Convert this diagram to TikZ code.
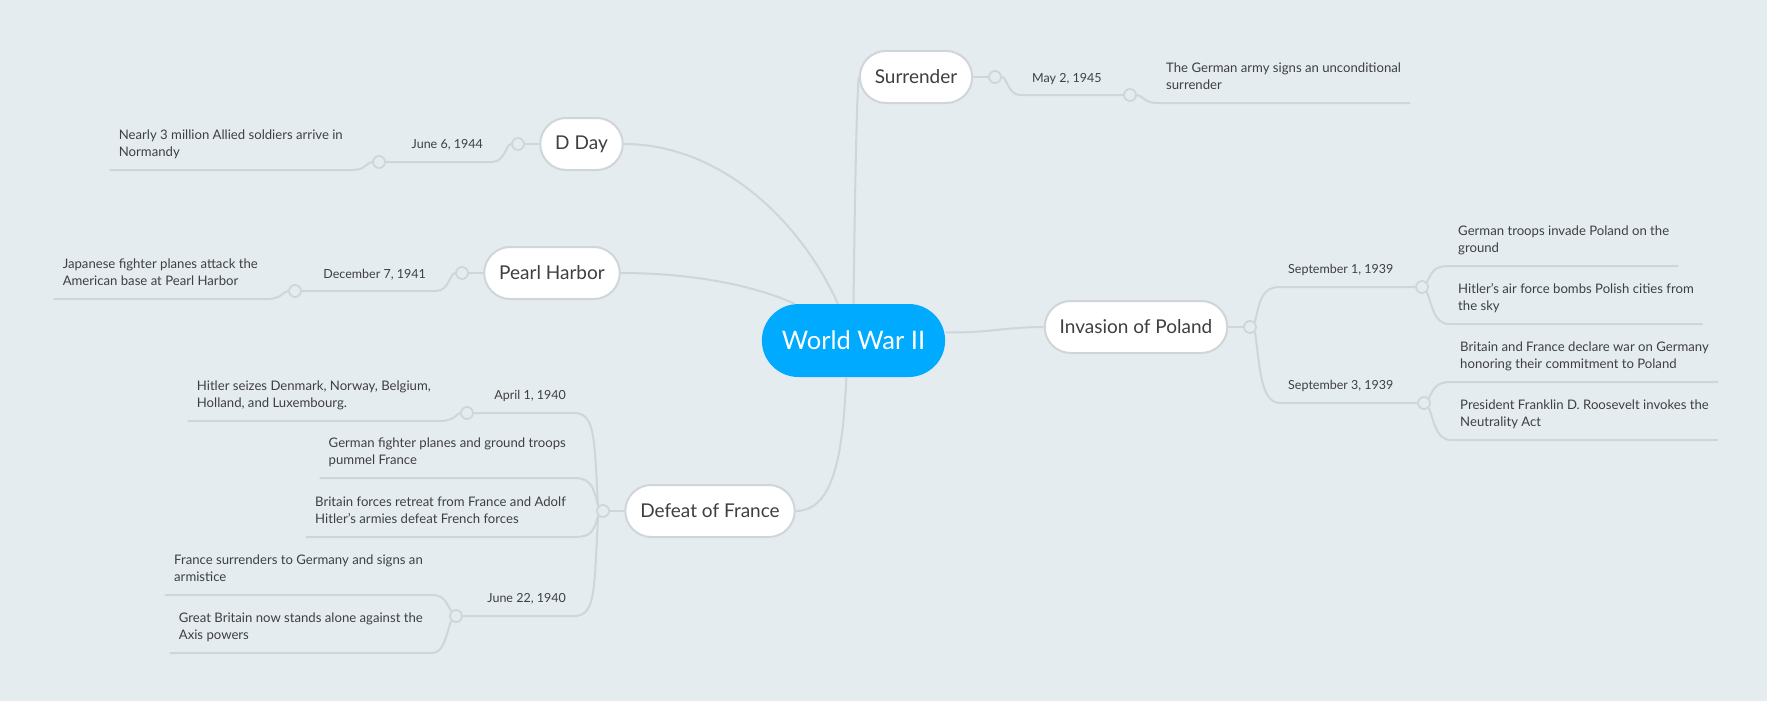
\documentclass[tikz,border=0pt]{standalone}
\usepackage{fontspec}
\setmainfont{Lato}
\definecolor{bgcol}{HTML}{E5ECF0}
\definecolor{linecol}{HTML}{CFD5D9}
\definecolor{wwblue}{HTML}{00AAFF}
\definecolor{txtcol}{HTML}{3F3F3F}
\tikzset{
	conn/.style={draw=linecol, line width=2pt},
	central/.style={fill=wwblue, text=white, rounded corners=36.5pt, minimum height=73pt, inner xsep=20pt, inner ysep=0pt, font=\fontsize{25.5}{30}\selectfont},
	topic/.style={draw=linecol, line width=2pt, fill=white, text=txtcol, rounded corners=26pt, minimum height=52pt, inner xsep=15pt, inner ysep=0pt, font=\fontsize{19}{23}\selectfont},
	handle/.style={circle, draw=linecol, line width=1.8pt, fill=bgcol, minimum size=12pt, inner sep=0pt},
	datelbl/.style={text=txtcol, inner sep=0pt, font=\fontsize{12.5}{15}\selectfont},
	desc/.style={text=txtcol, align=left, inner xsep=9pt, inner ysep=8.4pt, font=\fontsize{13.15}{17}\selectfont},
}
\begin{document}
\begin{tikzpicture}[x=1pt,y=-1pt]
	\fill[bgcol] (0,0) rectangle (1767,701);
	\useasboundingbox (0,0) rectangle (1767,701);
	
	\node[central] (ww) at (853.5,340.5) {World War II};
	
	\node[topic] (sur) at (916,77) {Surrender};
	\node[topic] (dday) at (581.5,144) {D Day};
	\node[topic] (pearl) at (552,273) {Pearl Harbor};
	\node[topic] (inv) at (1136,327) {Invasion of Poland};
	\node[topic] (def) at (710,511) {Defeat of France};
	
	\draw[conn] (ww.north) .. controls (855,180) and (857,90) .. (sur.west);
	\draw[conn] (ww.113) .. controls (800,220) and (720,144) .. (dday.east);
	\draw[conn] (ww.148) .. controls (760,288) and (700,273) .. (pearl.east);
	\draw[conn] (ww.5) .. controls (990,333) and (1005,327) .. (inv.west);
	\draw[conn] (ww.259) .. controls (843,450) and (835,511) .. (def.east);
	
	% Surrender
	\node[handle] (hSur) at (995,77) {};
	\node[datelbl, anchor=base west] (dSur) at (1032,82) {May 2, 1945};
	\node[handle] (cSur) at (1130,95) {};
	\node[desc, anchor=south west] (tSur) at (1157,103) {The German army signs an unconditional\\surrender\strut};
	\draw[conn] (sur.east) -- (hSur.west);
	\draw[conn] (hSur.east) .. controls (1007,77) and (1008,95) .. (1020,95) -- (cSur.west);
	\draw[conn] (cSur.east) .. controls (1142,95) and (1144,103) .. (tSur.south west) -- (tSur.south east);
	
	% D Day
	\node[handle] (hDd) at (518,144) {};
	\node[datelbl, anchor=base east] (dDd) at (483,148) {June 6, 1944};
	\node[handle] (cDd) at (379,162) {};
	\node[desc, anchor=south east] (tDd) at (352,170) {Nearly 3 million Allied soldiers arrive in\\Normandy\strut};
	\draw[conn] (dday.west) -- (hDd.east);
	\draw[conn] (hDd.west) .. controls (506,144) and (505,162) .. (492,162) -- (cDd.east);
	\draw[conn] (cDd.west) .. controls (367,162) and (366,170) .. (tDd.south east) -- (tDd.south west);
	
	% Pearl Harbor
	\node[handle] (hPh) at (462,273) {};
	\node[datelbl, anchor=base east] (dPh) at (426,278) {December 7, 1941};
	\node[handle] (cPh) at (295,291) {};
	\node[desc, anchor=south east] (tPh) at (267,299) {Japanese fighter planes attack the\\American base at Pearl Harbor\strut};
	\draw[conn] (pearl.west) -- (hPh.east);
	\draw[conn] (hPh.west) .. controls (450,273) and (449,291) .. (436,291) -- (cPh.east);
	\draw[conn] (cPh.west) .. controls (283,291) and (282,299) .. (tPh.south east) -- (tPh.south west);
	
	% Invasion of Poland
	\node[handle] (hIn) at (1250,327) {};
	\node[datelbl, anchor=base west] (dIn1) at (1288,273) {September 1, 1939};
	\node[handle] (cIn1) at (1422,287) {};
	\node[datelbl, anchor=base west] (dIn2) at (1288,389) {September 3, 1939};
	\node[handle] (cIn2) at (1424,403) {};
	\node[desc, anchor=south west] (tIn1) at (1449,266) {German troops invade Poland on the\\ground\strut};
	\node[desc, anchor=south west] (tIn2) at (1449,324) {Hitler's air force bombs Polish cities from\\the sky\strut};
	\node[desc, anchor=south west] (tIn3) at (1451,382) {Britain and France declare war on Germany\\honoring their commitment to Poland\strut};
	\node[desc, anchor=south west] (tIn4) at (1451,440) {President Franklin D. Roosevelt invokes the\\Neutrality Act\strut};
	\draw[conn] (inv.east) -- (hIn.west);
	\draw[conn] (hIn.north east) .. controls (1260,300) and (1262,287) .. (1280,287) -- (cIn1.west);
	\draw[conn] (hIn.south east) .. controls (1260,365) and (1260,403) .. (1280,403) -- (cIn2.west);
	\draw[conn] (cIn1.north east) .. controls (1432,272) and (1434,266) .. (tIn1.south west) -- (tIn1.south east);
	\draw[conn] (cIn1.south east) .. controls (1432,305) and (1434,324) .. (tIn2.south west) -- (tIn2.south east);
	\draw[conn] (cIn2.north east) .. controls (1434,388) and (1436,382) .. (tIn3.south west) -- (tIn3.south east);
	\draw[conn] (cIn2.south east) .. controls (1434,421) and (1436,440) .. (tIn4.south west) -- (tIn4.south east);
	
	% Defeat of France
	\node[handle] (hFr) at (603,511) {};
	\node[datelbl, anchor=base east] (dFr1) at (566,399) {April 1, 1940};
	\node[handle] (cFr1) at (467,413) {};
	\node[desc, anchor=south east] (tFr1) at (440,421) {Hitler seizes Denmark, Norway, Belgium,\\Holland, and Luxembourg.\strut};
	\node[desc, anchor=south east] (tFr2) at (575,478) {German fighter planes and ground troops\\pummel France\strut};
	\node[desc, anchor=south east] (tFr3) at (575,537) {Britain forces retreat from France and Adolf\\Hitler's armies defeat French forces\strut};
	\node[datelbl, anchor=base east] (dFr2) at (566,602) {June 22, 1940};
	\node[handle] (cFr2) at (456,616) {};
	\node[desc, anchor=south east] (tFr4) at (432,595) {France surrenders to Germany and signs an\\armistice\strut};
	\node[desc, anchor=south east] (tFr5) at (432,653) {Great Britain now stands alone against the\\Axis powers\strut};
	\draw[conn] (def.west) -- (hFr.east);
	\draw[conn] (hFr.north west) .. controls (594,440) and (596,413) .. (574,413) -- (cFr1.east);
	\draw[conn] (cFr1.west) .. controls (457,413) and (455,421) .. (tFr1.south east) -- (tFr1.south west);
	\draw[conn] (hFr.north west) .. controls (594,490) and (592,478) .. (tFr2.south east) -- (tFr2.south west);
	\draw[conn] (hFr.south west) .. controls (594,530) and (592,537) .. (tFr3.south east) -- (tFr3.south west);
	\draw[conn] (hFr.south west) .. controls (594,590) and (596,616) .. (574,616) -- (cFr2.east);
	\draw[conn] (cFr2.north west) .. controls (446,602) and (444,595) .. (tFr4.south east) -- (tFr4.south west);
	\draw[conn] (cFr2.south west) .. controls (446,635) and (444,653) .. (tFr5.south east) -- (tFr5.south west);
\end{tikzpicture}
\end{document}
